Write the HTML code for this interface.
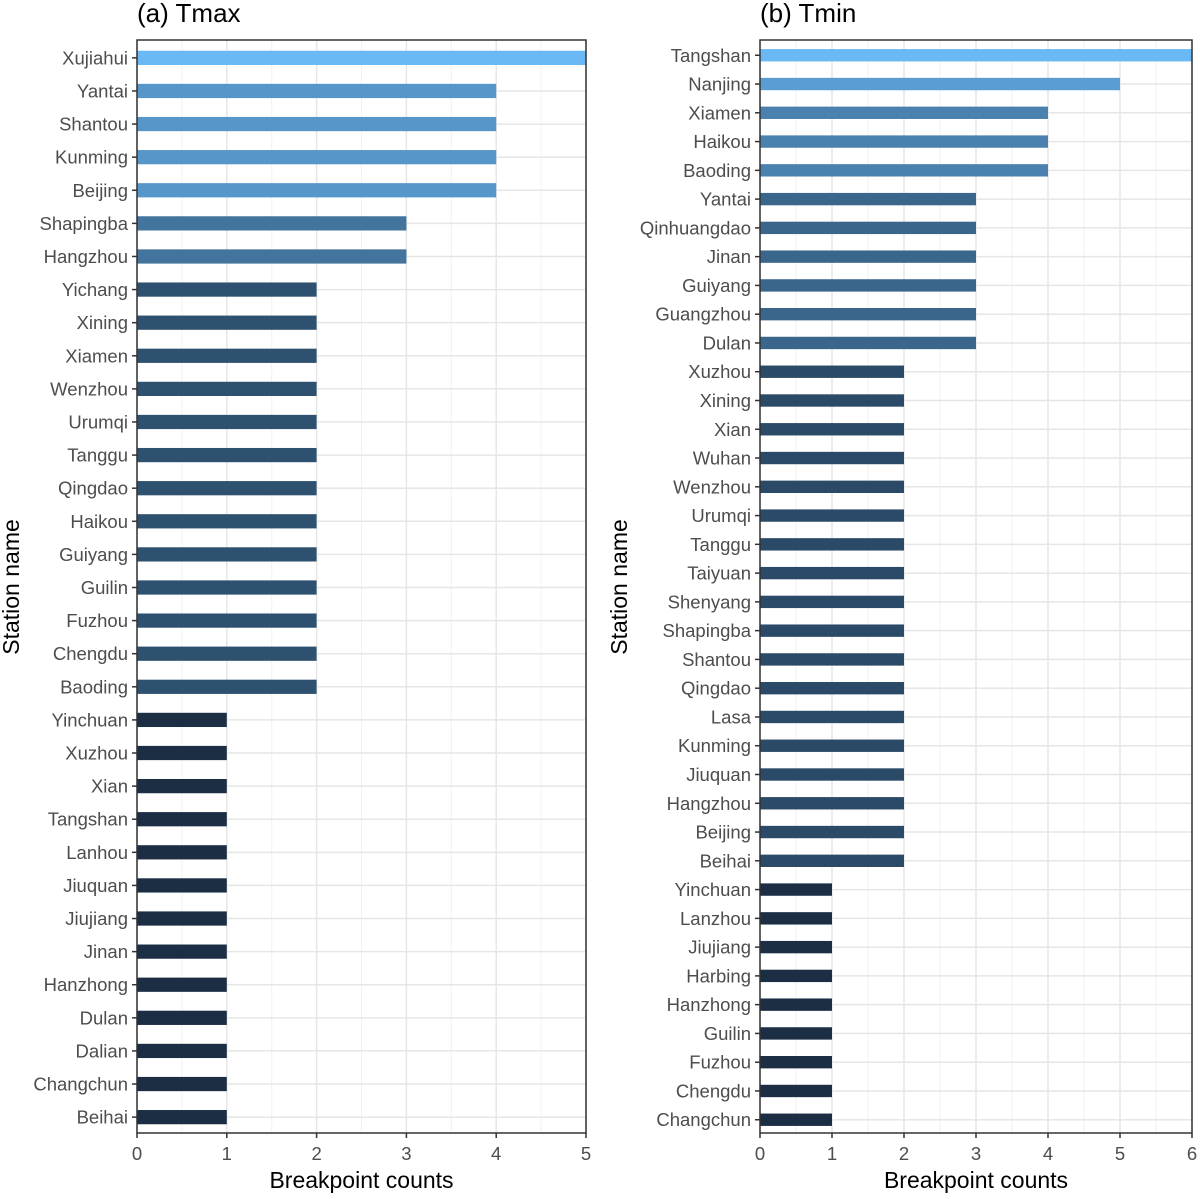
<!DOCTYPE html>
<html><head><meta charset="utf-8"><style>
body{margin:0;background:#fff;font-family:"Liberation Sans",Arial,sans-serif}
svg text{font-family:"Liberation Sans",Arial,sans-serif}
</style></head><body>
<svg id="chart" width="1200" height="1194" xmlns="http://www.w3.org/2000/svg"></svg>
<script>
const tmaxStations=["Xujiahui","Yantai","Shantou","Kunming","Beijing","Shapingba","Hangzhou","Yichang","Xining","Xiamen","Wenzhou","Urumqi","Tanggu","Qingdao","Haikou","Guiyang","Guilin","Fuzhou","Chengdu","Baoding","Yinchuan","Xuzhou","Xian","Tangshan","Lanhou","Jiuquan","Jiujiang","Jinan","Hanzhong","Dulan","Dalian","Changchun","Beihai"];
const tmaxCounts=[5,4,4,4,4,3,3,2,2,2,2,2,2,2,2,2,2,2,2,2,1,1,1,1,1,1,1,1,1,1,1,1,1];
const tminStations=["Tangshan","Nanjing","Xiamen","Haikou","Baoding","Yantai","Qinhuangdao","Jinan","Guiyang","Guangzhou","Dulan","Xuzhou","Xining","Xian","Wuhan","Wenzhou","Urumqi","Tanggu","Taiyuan","Shenyang","Shapingba","Shantou","Qingdao","Lasa","Kunming","Jiuquan","Hangzhou","Beijing","Beihai","Yinchuan","Lanzhou","Jiujiang","Harbing","Hanzhong","Guilin","Fuzhou","Chengdu","Changchun"];
const tminCounts=[6,5,4,4,4,3,3,3,3,3,3,2,2,2,2,2,2,2,2,2,2,2,2,2,2,2,2,2,2,1,1,1,1,1,1,1,1,1];
const tmaxTicks=[0,1,2,3,4,5];
const tminTicks=[0,1,2,3,4,5,6];

const svg=document.getElementById('chart');
const NS='http://www.w3.org/2000/svg';
function mk(tag,attrs,parent){const e=document.createElementNS(NS,tag);for(const k in attrs)e.setAttribute(k,attrs[k]);(parent||svg).appendChild(e);return e;}
function col(v,min,max){const t=max>min?(v-min)/(max-min):0;const a=[27,46,68],b=[106,185,245];return 'rgb('+a.map((c,i)=>Math.round(c+(b[i]-c)*t)).join(',')+')';}

function panel(id,title,stations,counts,ticks,L,R,T,B){
  const g=mk('g',{});
  
  
  const xmax=ticks[ticks.length-1];
  const x=v=>L+(R-L)*v/xmax;
  const n=stations.length;
  const YT=38,YB=1137;
  const step=(YB-YT)/(n+0.2);
  const y=i=>YT+step*(i+0.6);
  for(let i=0;i<ticks.length-1;i++){mk('line',{x1:x(ticks[i]+0.5),x2:x(ticks[i]+0.5),y1:T,y2:B,stroke:'#f2f2f2','stroke-width':1},g);}
  ticks.forEach(t=>mk('line',{x1:x(t),x2:x(t),y1:T,y2:B,stroke:'#e6e6e6','stroke-width':1.5},g));
  stations.forEach((s,i)=>mk('line',{x1:L,x2:R,y1:y(i),y2:y(i),stroke:'#e6e6e6','stroke-width':1.5},g));
  const bh=step*0.43;
  stations.forEach((s,i)=>{
    const r=mk('rect',{x:x(0),y:y(i)-bh/2,width:x(counts[i])-x(0),height:bh,fill:col(counts[i],1,Math.max(...counts))},g);
    
    
    mk('line',{x1:L-5,x2:L,y1:y(i),y2:y(i),stroke:'#333','stroke-width':1.5},g);
    const t=mk('text',{x:L-9,y:y(i)+6.5,'text-anchor':'end','font-size':18.5,fill:'#4d4d4d'},g);
    t.textContent=s;
    
    
  });
  mk('rect',{x:L,y:T,width:R-L,height:B-T,fill:'none',stroke:'#333','stroke-width':1.5},g);
  ticks.forEach(tk=>{
    mk('line',{x1:x(tk),x2:x(tk),y1:B,y2:B+5,stroke:'#333','stroke-width':1.5},g);
    const t=mk('text',{x:x(tk),y:B+27,'text-anchor':'middle','font-size':18.5,fill:'#4d4d4d'},g);
    t.textContent=tk;
    
    
  });
  const xt=mk('text',{x:(L+R)/2,y:B+55,'text-anchor':'middle','font-size':23,fill:'#000'},g);
  xt.textContent='Breakpoint counts';
  
  
  const tt=mk('text',{x:L,y:22,'font-size':26,fill:'#000'},g);
  tt.textContent=title;
  
  
}
panel('tmax','(a) Tmax',tmaxStations,tmaxCounts,tmaxTicks,137,586,40,1133);
panel('tmin','(b) Tmin',tminStations,tminCounts,tminTicks,760,1192,40,1133);
[[19,'y-axis-title-a'],[627,'y-axis-title-b']].forEach(([px,nm])=>{
  const t=mk('text',{x:px,y:587,'text-anchor':'middle','font-size':23,fill:'#000',transform:'rotate(-90 '+px+' 587)'});
  t.textContent='Station name';
  
  
});
</script>
</body></html>
